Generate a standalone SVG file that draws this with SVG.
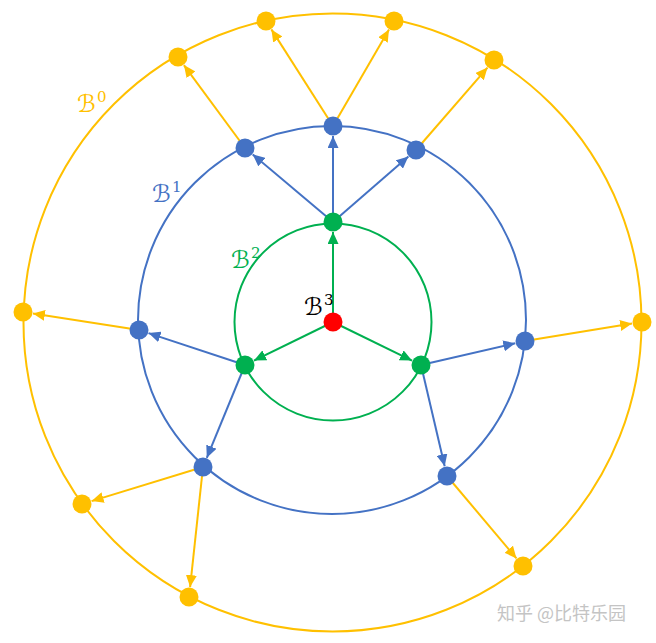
<svg xmlns="http://www.w3.org/2000/svg" width="656" height="643" viewBox="0 0 656 643">
<style>
.ring{fill:none;stroke-width:2}
.e{stroke-width:2;fill:none}
.g{stroke:#00B050}.b{stroke:#4472C4}.y{stroke:#FFC000}
.ng{fill:#00B050}.nb{fill:#4472C4}.ny{fill:#FFC000}.nr{fill:#FF0000}
.lbl{font-family:"DejaVu Sans","DejaVu Serif",serif;font-size:24px}
.sup{font-family:"DejaVu Serif",serif;font-size:15px}
.wm{font-family:"Noto Sans CJK SC","Noto Sans",sans-serif;font-size:18px;fill:#c4c4c4}
</style>
<defs>
<marker id="ag" markerUnits="userSpaceOnUse" markerWidth="13" markerHeight="11" refX="12" refY="5.5" orient="auto"><path d="M0,0 L12,5.5 L0,11 z" fill="#00B050"/></marker>
<marker id="ab" markerUnits="userSpaceOnUse" markerWidth="13" markerHeight="11" refX="12" refY="5.5" orient="auto"><path d="M0,0 L12,5.5 L0,11 z" fill="#4472C4"/></marker>
<marker id="ay" markerUnits="userSpaceOnUse" markerWidth="13" markerHeight="11" refX="12" refY="5.5" orient="auto"><path d="M0,0 L12,5.5 L0,11 z" fill="#FFC000"/></marker>
</defs>
<g id="rings">
<circle class="ring y" cx="332.5" cy="322.5" r="309"/>
<circle class="ring b" cx="332" cy="320" r="194"/>
<circle class="ring g" cx="333" cy="322" r="98.5"/>
</g>
<g id="connectors">
<line class="e g" x1="333" y1="322" x2="333" y2="232" marker-end="url(#ag)"/>
<line class="e g" x1="333" y1="322" x2="254" y2="360.6" marker-end="url(#ag)"/>
<line class="e g" x1="333" y1="322" x2="412" y2="360.6" marker-end="url(#ag)"/>
<line class="e b" x1="333" y1="222" x2="252.7" y2="154.4" marker-end="url(#ab)"/>
<line class="e b" x1="333" y1="222" x2="333" y2="136" marker-end="url(#ab)"/>
<line class="e b" x1="333" y1="222" x2="408.4" y2="156.6" marker-end="url(#ab)"/>
<line class="e b" x1="245" y1="365" x2="148.5" y2="333.1" marker-end="url(#ab)"/>
<line class="e b" x1="245" y1="365" x2="206.8" y2="457.8" marker-end="url(#ab)"/>
<line class="e b" x1="421" y1="365" x2="515.3" y2="343.2" marker-end="url(#ab)"/>
<line class="e b" x1="421" y1="365" x2="444.7" y2="466.3" marker-end="url(#ab)"/>
<line class="e y" x1="245" y1="148" x2="183.9" y2="65.1" marker-end="url(#ay)"/>
<line class="e y" x1="333" y1="126" x2="271.4" y2="29.4" marker-end="url(#ay)"/>
<line class="e y" x1="333" y1="126" x2="389" y2="29.6" marker-end="url(#ay)"/>
<line class="e y" x1="416" y1="150" x2="487.5" y2="67.6" marker-end="url(#ay)"/>
<line class="e y" x1="139" y1="330" x2="32.9" y2="313.5" marker-end="url(#ay)"/>
<line class="e y" x1="525" y1="341" x2="632.1" y2="323.6" marker-end="url(#ay)"/>
<line class="e y" x1="203" y1="467" x2="91.6" y2="501.1" marker-end="url(#ay)"/>
<line class="e y" x1="203" y1="467" x2="190.1" y2="587.1" marker-end="url(#ay)"/>
<line class="e y" x1="447" y1="476" x2="516.5" y2="558.4" marker-end="url(#ay)"/>
</g>
<g id="n-r"><circle class="nr" cx="333" cy="322" r="9.5"/></g>
<g id="n-g1"><circle class="ng" cx="333" cy="222" r="9.5"/></g>
<g id="n-g2"><circle class="ng" cx="245" cy="365" r="9.5"/></g>
<g id="n-g3"><circle class="ng" cx="421" cy="365" r="9.5"/></g>
<g id="n-b1"><circle class="nb" cx="245" cy="148" r="9.5"/></g>
<g id="n-b2"><circle class="nb" cx="333" cy="126" r="9.5"/></g>
<g id="n-b3"><circle class="nb" cx="416" cy="150" r="9.5"/></g>
<g id="n-b4"><circle class="nb" cx="139" cy="330" r="9.5"/></g>
<g id="n-b5"><circle class="nb" cx="525" cy="341" r="9.5"/></g>
<g id="n-b6"><circle class="nb" cx="203" cy="467" r="9.5"/></g>
<g id="n-b7"><circle class="nb" cx="447" cy="476" r="9.5"/></g>
<g id="n-y1"><circle class="ny" cx="178" cy="57" r="9.5"/></g>
<g id="n-y2"><circle class="ny" cx="266" cy="21" r="9.5"/></g>
<g id="n-y3"><circle class="ny" cx="394" cy="21" r="9.5"/></g>
<g id="n-y4"><circle class="ny" cx="494" cy="60" r="9.5"/></g>
<g id="n-y5"><circle class="ny" cx="23" cy="312" r="9.5"/></g>
<g id="n-y6"><circle class="ny" cx="642" cy="322" r="9.5"/></g>
<g id="n-y7"><circle class="ny" cx="82" cy="504" r="9.5"/></g>
<g id="n-y8"><circle class="ny" cx="189" cy="597" r="9.5"/></g>
<g id="n-y9"><circle class="ny" cx="523" cy="566" r="9.5"/></g>
<g id="labels">
<text class="lbl" x="77" y="112" fill="#FFC000">ℬ<tspan class="sup" dx="1" dy="-10">0</tspan></text>
<text class="lbl" x="152" y="202" fill="#4472C4">ℬ<tspan class="sup" dx="1" dy="-10">1</tspan></text>
<text class="lbl" x="231" y="268" fill="#00B050">ℬ<tspan class="sup" dx="1" dy="-10">2</tspan></text>
<text class="lbl" x="304" y="315" fill="#000000">ℬ<tspan class="sup" dx="1" dy="-10">3</tspan></text>
</g>
<text class="wm" x="497" y="620">知乎 @比特乐园</text>
</svg>
